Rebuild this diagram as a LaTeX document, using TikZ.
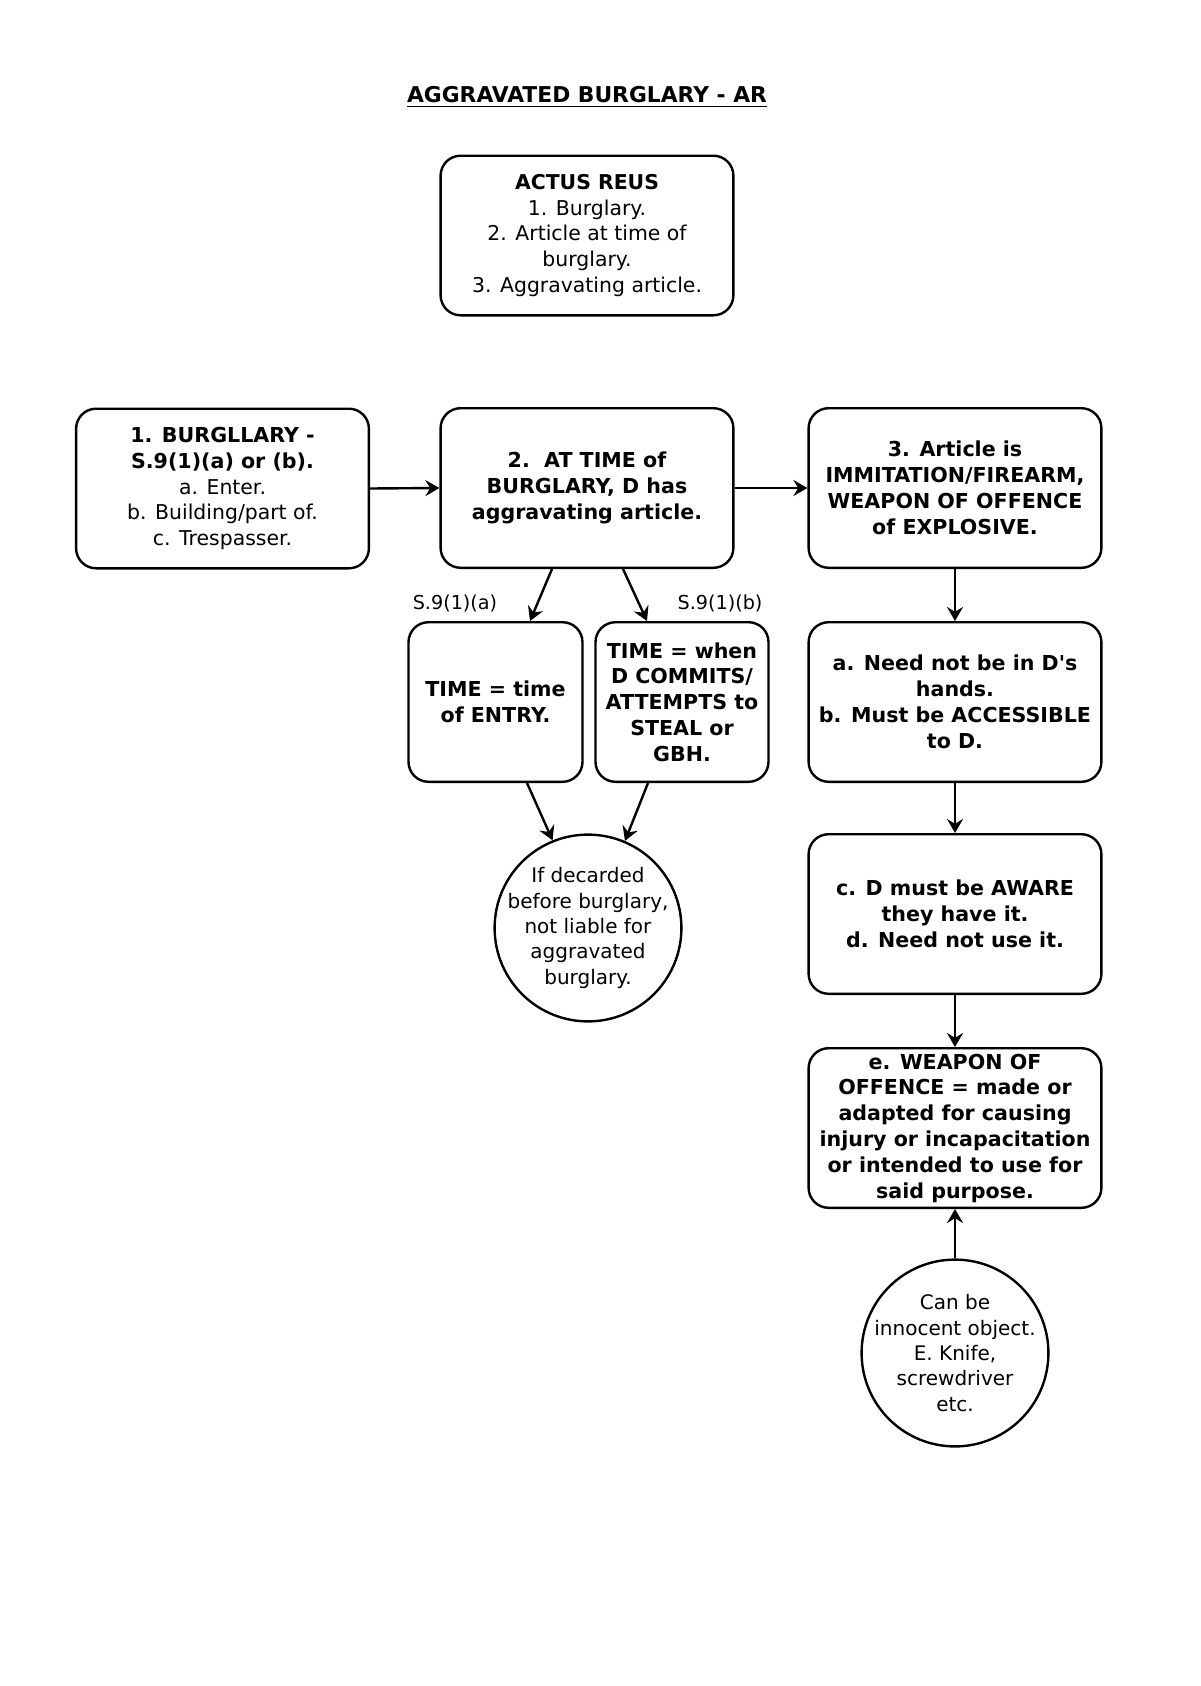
\documentclass[tikz,border=0pt]{standalone}
\usepackage{fontspec}
\setmainfont{DejaVu Sans}[Ligatures=TeXOff]
\usetikzlibrary{arrows.meta,calc}
\begin{document}
\begin{tikzpicture}[x=0.5pt,y=-0.5pt,
  box/.style={draw,line width=1.2pt,rounded corners=10pt,minimum width=146.4pt,minimum height=79.8pt,align=center,inner sep=1pt,font=\fontsize{10.2}{12.9}\selectfont},
  bbox/.style={box,font=\fontsize{10.3}{12.9}\selectfont\bfseries},
  circ/.style={draw,circle,line width=1.2pt,minimum size=93.4pt,align=center,inner sep=-6pt,font=\fontsize{10}{12.7}\selectfont},
  arr/.style={line width=1.2pt,-{Stealth[length=7pt,width=8pt,inset=2.4pt]}},
  lbl/.style={font=\fontsize{9.6}{12}\selectfont}
]
\useasboundingbox (0,0) rectangle (1200,1686);
\node[font=\fontsize{10.9}{13}\selectfont\bfseries] (title) at (587,97) {\underline{AGGRAVATED BURGLARY - AR}};
\node[box] (actus) at (587,235.5) {\textbf{ACTUS REUS}\\1. Burglary.\\2. Article at time of\\burglary.\\3. Aggravating article.};
\node[box] (b1) at (222.5,488.5) {\textbf{\fontsize{10.3}{12.9}\selectfont 1. BURGLLARY -}\\\textbf{\fontsize{10.3}{12.9}\selectfont S.9(1)(a) or (b).}\\a. Enter.\\b. Building/part of.\\c. Trespasser.};
\node[bbox] (b2) at (587,488) {2.\ \ AT TIME of\\BURGLARY, D has\\aggravating article.};
\node[bbox] (b3) at (955,488) {3. Article is\\IMMITATION/FIREARM,\\WEAPON OF OFFENCE\\of EXPLOSIVE.};
\node[bbox,minimum width=87pt] (ta) at (495.5,702) {TIME = time\\of ENTRY.};
\node[bbox,minimum width=86.5pt] (tb) at (682,702) {TIME = when\\D COMMITS/\\ATTEMPTS to\\STEAL or\\GBH.};
\node[circ] (ca) at (588,928) {If decarded\\before burglary,\\not liable for\\aggravated\\burglary.};
\node[bbox] (ba) at (955,702) {a. Need not be in D's\\hands.\\b. Must be ACCESSIBLE\\to D.};
\node[bbox] (bc) at (955,914) {c. D must be AWARE\\they have it.\\d. Need not use it.};
\node[bbox] (be) at (955,1128) {e. WEAPON OF\\OFFENCE = made or\\adapted for causing\\injury or incapacitation\\or intended to use for\\said purpose.};
\node[circ] (cc) at (955,1353) {Can be\\innocent object.\\E. Knife,\\screwdriver\\etc.};
\node[lbl] (la) at (455,603) {S.9(1)(a)};
\node[lbl] (lb) at (720,603) {S.9(1)(b)};
\draw[arr] (b1.east) -- (b2.west);
\draw[arr] (b2.east) -- (b3.west);
\draw[arr] ([xshift=-17.5pt]b2.south) -- ([xshift=17.25pt]ta.north);
\draw[arr] ([xshift=18pt]b2.south) -- ([xshift=-17.5pt]tb.north);
\draw[arr] ([xshift=15.75pt]ta.south) -- (ca.112.5);
\draw[arr] ([xshift=-17pt]tb.south) -- (ca.67.5);
\draw[arr] (b3.south) -- (ba.north);
\draw[arr] (ba.south) -- (bc.north);
\draw[arr] (bc.south) -- (be.north);
\draw[arr] (cc.north) -- (be.south);
\end{tikzpicture}
\end{document}
